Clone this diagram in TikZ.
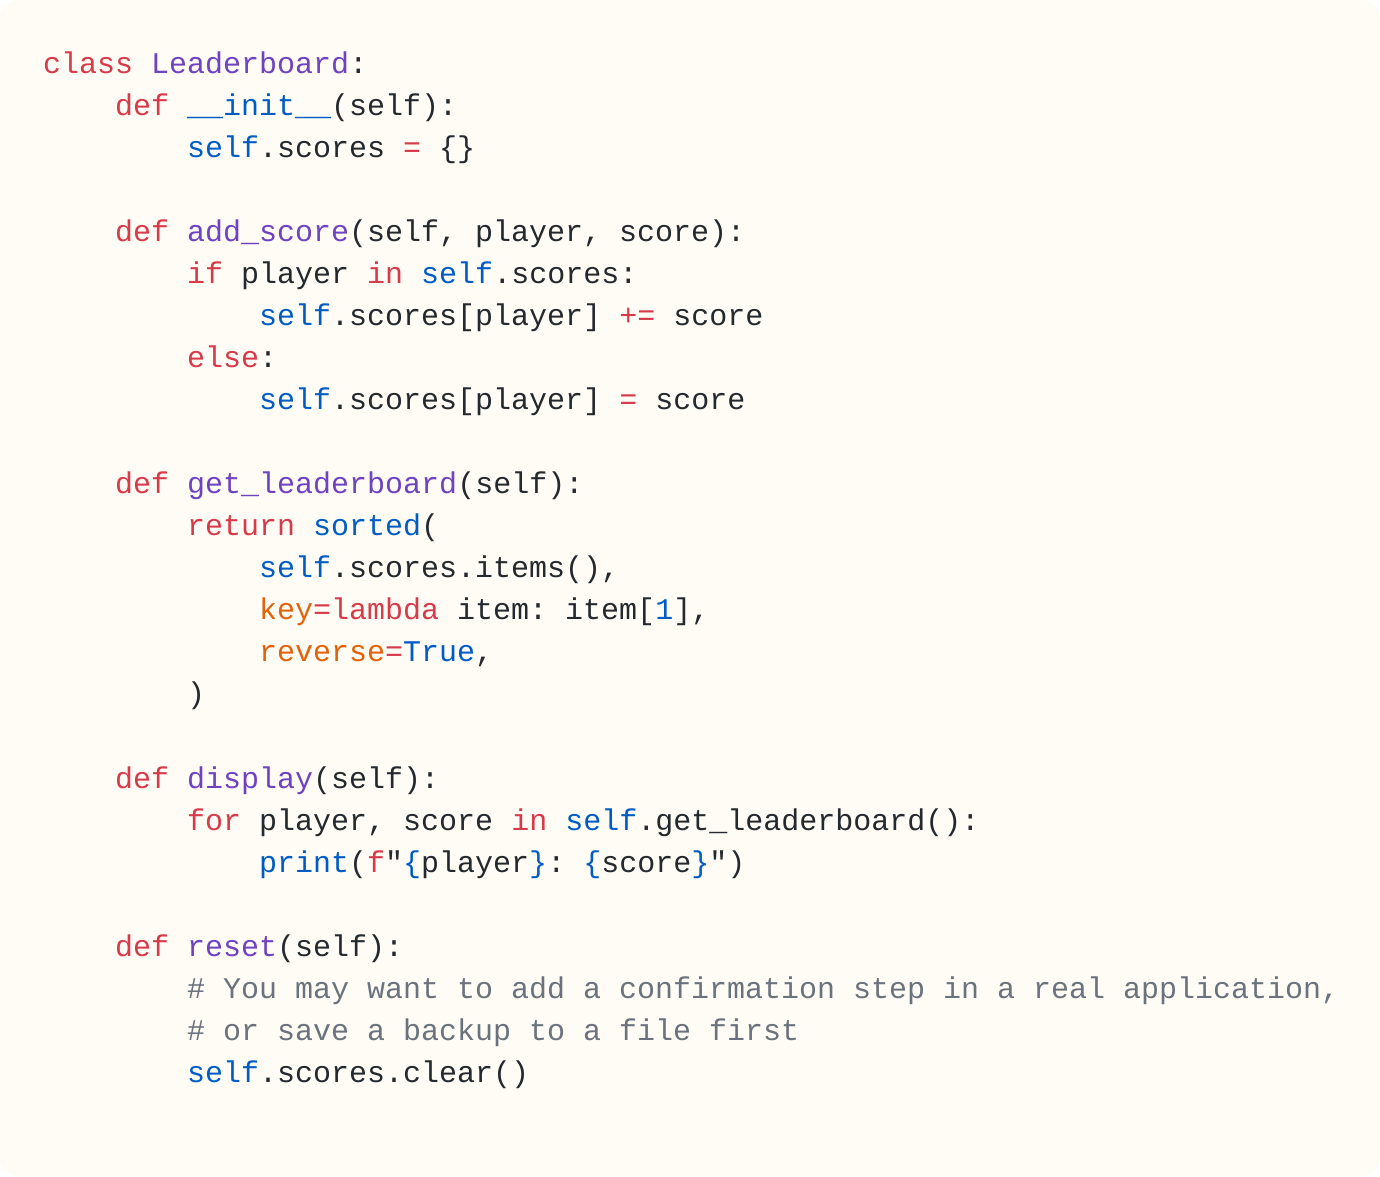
\documentclass[tikz,border=0pt]{standalone}
\usepackage{fontspec}
\setmonofont{Liberation Mono}
\definecolor{bg}{HTML}{FFFCF5}
\definecolor{kw}{HTML}{D73A49}
\definecolor{fn}{HTML}{6F42C1}
\definecolor{bi}{HTML}{005CC5}
\definecolor{at}{HTML}{E36209}
\definecolor{cm}{HTML}{6A737D}
\definecolor{tx}{HTML}{24292E}
\newcommand{\K}[1]{\textcolor{kw}{#1}}
\newcommand{\F}[1]{\textcolor{fn}{#1}}
\newcommand{\B}[1]{\textcolor{bi}{#1}}
\newcommand{\A}[1]{\textcolor{at}{#1}}
\newcommand{\C}[1]{\textcolor{cm}{#1}}
\begin{document}
\begin{tikzpicture}[x=1pt,y=1pt,
  code/.style={anchor=base west,inner sep=0pt,text=tx,font=\ttfamily\fontsize{30}{42}\selectfont}]
\useasboundingbox (0,0) rectangle (1380,1176);
\fill[bg,rounded corners=18pt] (0,0) rectangle (1380,1176);
\def\ln#1#2#3#4{\node[code] (#1) at ({43+18*#2},{1176-74-42*#3}) {#4};}
\ln{l1}{0}{0}{\K{class} \F{Leaderboard}:}
\ln{l2}{4}{1}{\K{def} \B{\_\_init\_\_}(self):}
\ln{l3}{8}{2}{\B{self}.scores \K{=} \{\}}
\ln{l4}{4}{4}{\K{def} \F{add\_score}(self, player, score):}
\ln{l5}{8}{5}{\K{if} player \K{in} \B{self}.scores:}
\ln{l6}{12}{6}{\B{self}.scores[player] \K{+=} score}
\ln{l7}{8}{7}{\K{else}:}
\ln{l8}{12}{8}{\B{self}.scores[player] \K{=} score}
\ln{l9}{4}{10}{\K{def} \F{get\_leaderboard}(self):}
\ln{l10}{8}{11}{\K{return} \B{sorted}(}
\ln{l11}{12}{12}{\B{self}.scores.items(),}
\ln{l12}{12}{13}{\A{key}\K{=}\K{lambda} item: item[\B{1}],}
\ln{l13}{12}{14}{\A{reverse}\K{=}\B{True},}
\ln{l14}{8}{15}{)}
\ln{l15}{4}{17}{\K{def} \F{display}(self):}
\ln{l16}{8}{18}{\K{for} player, score \K{in} \B{self}.get\_leaderboard():}
\ln{l17}{12}{19}{\B{print}(\K{f}"\B{\{}player\B{\}}: \B{\{}score\B{\}}")}
\ln{l18}{4}{21}{\K{def} \F{reset}(self):}
\ln{l19}{8}{22}{\C{\# You may want to add a confirmation step in a real application,}}
\ln{l20}{8}{23}{\C{\# or save a backup to a file first}}
\ln{l21}{8}{24}{\B{self}.scores.clear()}
\end{tikzpicture}
\end{document}
